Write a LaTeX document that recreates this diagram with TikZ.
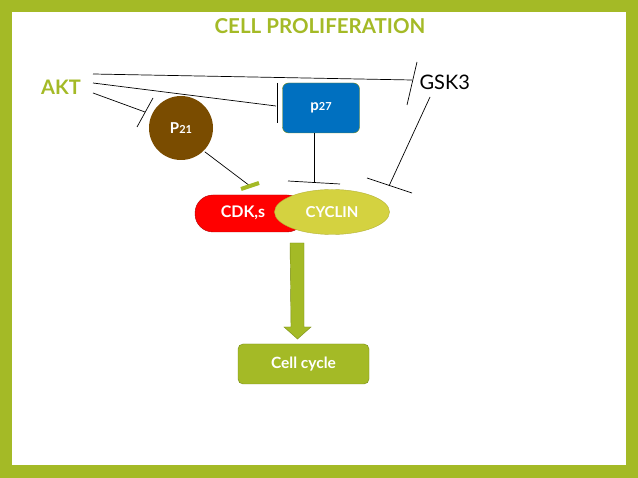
\documentclass[tikz,border=0pt]{standalone}
\usepackage{fontspec}
\setmainfont{Lato}
\usetikzlibrary{shapes.geometric}

\definecolor{olive}{RGB}{164,186,38}
\definecolor{oliveDark}{RGB}{120,140,20}
\definecolor{brownP}{RGB}{122,76,0}
\definecolor{blueP}{RGB}{0,112,192}
\definecolor{cyclinY}{RGB}{212,210,64}

\tikzset{
  inhib/.style={black, line width=0.7pt},
  barline/.style={black, line width=0.7pt},
  whitetext/.style={text=white, font=\bfseries\fontsize{15}{17}\selectfont},
}

\begin{document}
\begin{tikzpicture}[x=1pt,y=-1pt]
    \useasboundingbox (0,0) rectangle (638,478);
    \fill[olive] (0,0) rectangle (638,478);
    \fill[white] (12,12) rectangle (626,465);

    \node[text=olive, font=\bfseries\fontsize{20.5}{22}\selectfont] (title) at (320,26) {CELL PROLIFERATION};
    \node[text=olive, font=\bfseries\fontsize{20}{22}\selectfont] (akt) at (61,87) {AKT};
    \node[font=\fontsize{20}{22}\selectfont, anchor=west] (gsk) at (416,82) {GSK3};

    \node[circle, fill=brownP, minimum size=64pt, inner sep=0pt, whitetext] (ptwoone) at (181,128) {P{\fontsize{11}{12}\selectfont 21}};
    \node[rectangle, rounded corners=6pt, fill=blueP, draw=oliveDark, minimum width=77pt, minimum height=50pt, whitetext] (ptwoseven) at (321,108) {p{\fontsize{11}{12}\selectfont 27}};

    \draw[fill=red, draw=red!70!black, rounded corners=18pt] (195,195) rectangle (305,232);
    \node[whitetext, font=\bfseries\fontsize{16}{18}\selectfont] (cdk) at (243,213) {CDK,s};
    \node[ellipse, fill=cyclinY, draw=cyclinY!85!black, minimum width=115pt, minimum height=45pt, inner sep=0pt, whitetext] (cyclin) at (332,212) {CYCLIN};

    \node[rectangle, rounded corners=5pt, fill=olive, draw=oliveDark, minimum width=131pt, minimum height=40pt, whitetext, font=\bfseries\fontsize{15.5}{17}\selectfont] (cellcycle) at (303.5,364) {Cell cycle};

    % big arrow
    \draw[fill=olive, draw=oliveDark] (290,243) -- (304,243) -- (304,327) -- (311,327) -- (297.5,339) -- (284,327) -- (291,327) -- cycle;

    % akt to gsk3
    \coordinate (gskbar) at (412,80);
    \draw[inhib] (93,74) -- (gskbar);
    \draw[barline] (417,62) -- (407,105);
    % akt to p27
    \coordinate (ptwosevenbar) at (276,106);
    \draw[inhib] (93,83) -- (ptwosevenbar);
    \draw[barline] (277,83) -- (277,123);
    % akt to p21
    \coordinate (ptwoonebar) at (145,112);
    \draw[inhib] (93,93) -- (ptwoonebar);
    \draw[barline] (153,98) -- (137,127);

    % p21 to cdk
    \coordinate (cdkbar) at (250,186);
    \draw[inhib] (ptwoone.south east) ++(1,1) -- (cdkbar);
    \draw[olive, line width=4pt] (241,189) -- (259,183);
    % p27 to cyclin
    \coordinate (cyclinbar) at (314,183);
    \draw[inhib] (ptwoseven.south -| cyclinbar) -- (cyclinbar);
    \draw[barline] (288,181) -- (340,184);
    % gsk3 to cyclin
    \coordinate (gskdown) at (389,186);
    \draw[inhib] (430,97) -- (gskdown);
    \draw[barline] (367,178) -- (412,193);
\end{tikzpicture}
\end{document}
